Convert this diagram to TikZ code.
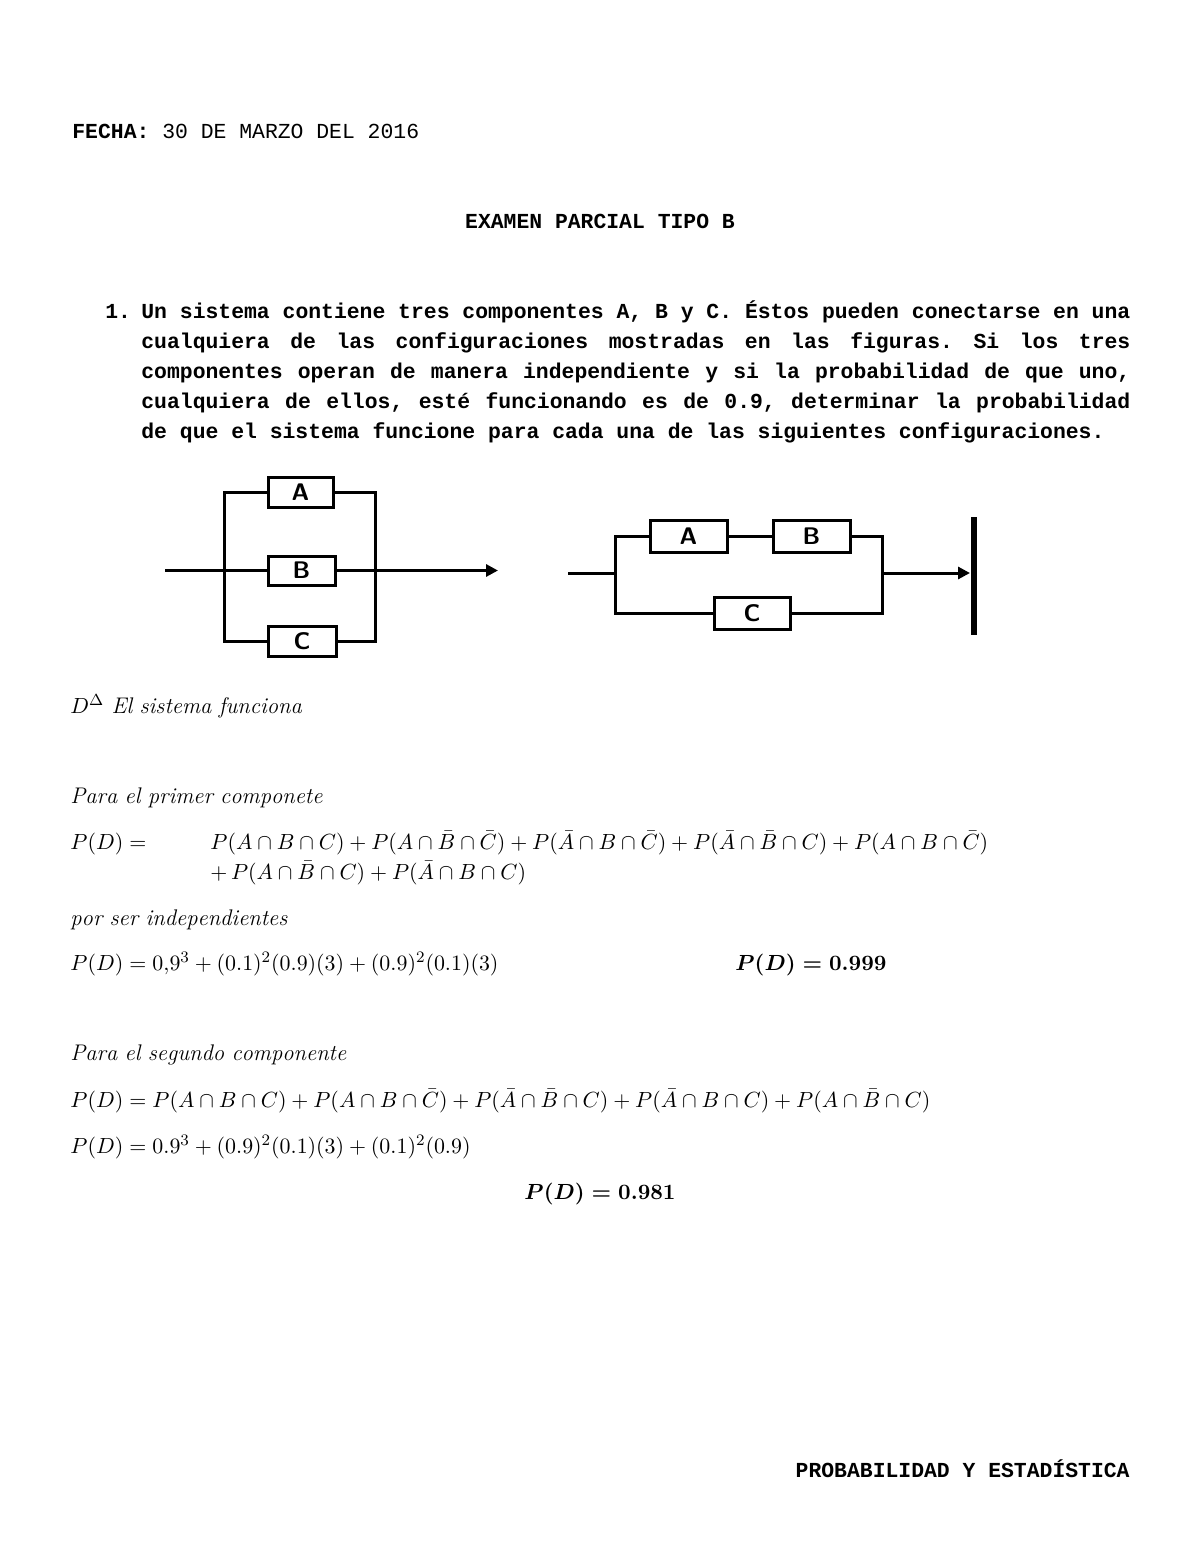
\documentclass[tikz,border=0pt]{standalone}
\usepackage{amsmath}
\usepackage{fontspec}
\newfontfamily\mono{Liberation Mono}
\usetikzlibrary{arrows.meta}
\tikzset{
  wire/.style={line width=1.5pt},
  comp/.style={draw,line width=1.5pt,minimum width=33pt,minimum height=15pt,inner sep=0pt,font=\sffamily\bfseries\large},
  mtext/.style={anchor=base west,inner sep=0pt,font=\fontsize{11.3}{13}\selectfont},
  ttext/.style={anchor=base west,inner sep=0pt,font=\mono\fontsize{10.7}{15}\selectfont}
}
\begin{document}
\frenchspacing
\begin{tikzpicture}[x=0.5pt,y=-0.5pt]
\useasboundingbox (0,0) rectangle (1200,1553);
\fill[white] (0,0) rectangle (1200,1553);
% header text
\node[ttext] (fecha) at (72,138) {\bfseries FECHA:\mdseries{} 30 DE MARZO DEL 2016};
\node[ttext,anchor=base] (title) at (600,228) {\bfseries EXAMEN PARCIAL TIPO B};
\node[ttext] (num) at (105,318) {\bfseries 1.};
\node[ttext,anchor=north west,text width=494.5pt,align=justify] (par) at (141,300)
 {\bfseries\frenchspacing\spaceskip=0.6em plus 0.6em\relax
 Un sistema contiene tres componentes A, B y C. Éstos pueden conectarse en una\linebreak
 cualquiera de las configuraciones mostradas en las figuras. Si los tres\linebreak
 componentes operan de manera independiente y si la probabilidad de que uno,\linebreak
 cualquiera de ellos, esté funcionando es de 0.9, determinar la probabilidad\linebreak
 de que el sistema funcione para cada una de las siguientes configuraciones.};
% diagram 1
\node[comp,minimum width=32.5pt] (a1) at (300.5,492) {A};
\node[comp,minimum width=33.5pt,minimum height=14.5pt] (b1) at (301.5,570.5) {B};
\node[comp,minimum width=34pt] (c1) at (302,641) {C};
\coordinate (l1t) at (224,492); \coordinate (l1b) at (224,641);
\coordinate (r1t) at (375,492); \coordinate (r1b) at (375,641);
\coordinate (in1) at (165,570.5); \coordinate (out1) at (498,570.5);
\draw[wire] (a1.west) -- (l1t) -- (l1b) -- (c1.west);
\draw[wire] (a1.east) -- (r1t) -- (r1b) -- (c1.east);
\draw[wire] (in1) -- (b1.west);
\draw[wire,-{Triangle[length=6pt,width=6pt]}] (b1.east) -- (out1);
% diagram 2
\node[comp,minimum width=38.5pt,minimum height=16pt] (a2) at (688.5,536) {A};
\node[comp,minimum width=38.5pt,minimum height=16pt] (b2) at (811.5,536) {B};
\node[comp,minimum width=38pt,minimum height=16pt] (c2) at (752,613) {C};
\coordinate (l2t) at (615,536); \coordinate (l2b) at (615,613);
\coordinate (r2t) at (882,536); \coordinate (r2b) at (882,613);
\coordinate (in2) at (568,573); \coordinate (l2m) at (615,573);
\coordinate (r2m) at (882,573); \coordinate (out2) at (970,573);
\draw[wire] (a2.west) -- (l2t) -- (l2b) -- (c2.west);
\draw[wire] (a2.east) -- (b2.west);
\draw[wire] (b2.east) -- (r2t) -- (r2b) -- (c2.east);
\draw[wire] (in2) -- (l2m);
\draw[wire,-{Triangle[length=6pt,width=6pt]}] (r2m) -- (out2);
\coordinate (bart) at (974,517); \coordinate (barb) at (974,635);
\draw[line width=3pt] (bart) -- (barb);
% math text
\node[mtext] (def) at (70,713) {$D^{\Delta}\ \mathit{El\ sistema\ funciona}$};
\node[mtext] (p1) at (70,803) {$\mathit{Para\ el\ primer\ componete}$};
\node[mtext] (pd1) at (70,849) {$P(D) =$};
\node[mtext] (e1) at (210,849) {$P(A\cap B\cap C)+P(A\cap \bar B\cap \bar C)+P(\bar A\cap B\cap \bar C)+P(\bar A\cap \bar B\cap C)+P(A\cap B\cap \bar C)$};
\node[mtext] (e2) at (210,879) {$+\,P(A\cap \bar B\cap C)+P(\bar A\cap B\cap C)$};
\node[mtext] (ind) at (70,925) {$\mathit{por\ ser\ independientes}$};
\node[mtext] (e3) at (70,970) {$P(D) = 0{,}9^3+(0.1)^2(0.9)(3)+(0.9)^2(0.1)(3)$};
\node[mtext] (r1) at (735,970) {$\boldsymbol{P(D) = 0.999}$};
\node[mtext] (p2) at (70,1060) {$\mathit{Para\ el\ segundo\ componente}$};
\node[mtext] (e4) at (70,1107) {$P(D) = P(A\cap B\cap C)+P(A\cap B\cap \bar C)+P(\bar A\cap \bar B\cap C)+P(\bar A\cap B\cap C)+P(A\cap \bar B\cap C)$};
\node[mtext] (e5) at (70,1153) {$P(D) = 0.9^3+(0.9)^2(0.1)(3)+(0.1)^2(0.9)$};
\node[mtext,anchor=base] (r2) at (600,1199) {$\boldsymbol{P(D) = 0.981}$};
\node[ttext,anchor=base east] (foot) at (1130,1477) {\bfseries PROBABILIDAD Y ESTADÍSTICA};
\end{tikzpicture}
\end{document}
